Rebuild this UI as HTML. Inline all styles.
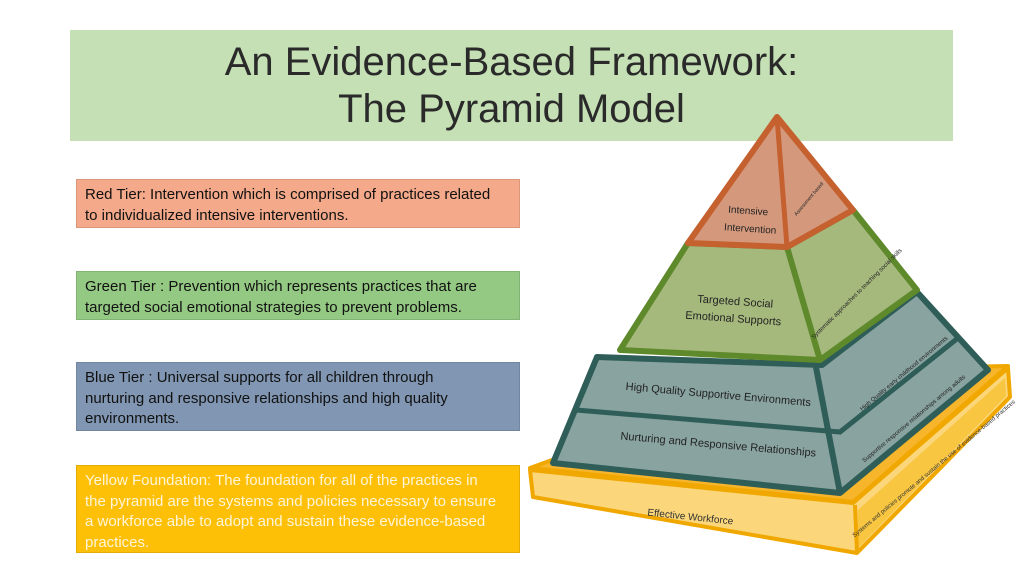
<!DOCTYPE html>
<html><head><meta charset="utf-8"><style>
body{margin:0;width:1024px;height:576px;background:#fff;position:relative;overflow:hidden;font-family:"Liberation Sans",sans-serif}
.title{position:absolute;left:70px;top:30px;width:883px;height:111px;background:#c5e0b4;text-align:center;font-size:40px;line-height:47px;color:#2a2a2a;padding-top:9px;box-sizing:border-box}
.b{position:absolute;left:76px;width:444px;box-sizing:border-box;padding:5px 8px;font-size:15px;line-height:20.5px;color:#111;border:1px solid rgba(0,0,0,.1);white-space:nowrap;overflow:hidden}
</style></head><body>
<div class="title">An Evidence-Based Framework:<br>The Pyramid Model</div>
<div class="b" style="top:179px;height:49px;background:#f4a98a">Red Tier: Intervention which is comprised of practices related<br>to individualized intensive interventions.</div>
<div class="b" style="top:271px;height:49px;background:#94c983">Green Tier : Prevention which represents practices that are<br>targeted social emotional strategies to prevent problems.</div>
<div class="b" style="top:362px;height:69px;background:#8096b2">Blue Tier : Universal supports for all children through<br>nurturing and responsive relationships and high quality<br>environments.</div>
<div class="b" style="top:465px;height:88px;background:#fdc006;color:#fff4d8">Yellow Foundation: The foundation for all of the practices in<br>the pyramid are the systems and policies necessary to ensure<br>a workforce able to adopt and sustain these evidence-based<br>practices.</div>
<svg style="position:absolute;left:0;top:0" width="1024" height="576" font-family="Liberation Sans, sans-serif">
<!-- base -->
<polygon points="530,468 853,502 1008,366 800,370" fill="#f6b52a" stroke="#f0a800" stroke-width="4" stroke-linejoin="round"/>
<polygon points="530,470 853,503 1008,368 1010,397 857,553 533,497" fill="#fbd67a" stroke="#f0a800" stroke-width="4" stroke-linejoin="round"/>
<polygon points="858,510 1005,378 1006,396 858,548" fill="#f8c640"/>
<line x1="855" y1="505" x2="857" y2="552" stroke="#f0a800" stroke-width="4"/>
<text x="690" y="520" font-size="10" fill="#333" transform="rotate(6 690 520)" text-anchor="middle">Effective Workforce</text>
<text x="935" y="470" font-size="6" fill="#333" transform="rotate(-40 935 470)" text-anchor="middle">Systems and policies promote and sustain the use of evidence-based practices</text>
<!-- blue -->
<polygon points="597,357 822,365 917,292 988,370 840,493 553,463" fill="#89a3a0" stroke="#2f5d58" stroke-width="6" stroke-linejoin="round"/>
<line x1="815" y1="362" x2="840" y2="493" stroke="#2f5d58" stroke-width="6"/>
<polyline points="576,410 840,432 958,338" fill="none" stroke="#2f5d58" stroke-width="5"/>
<text x="718" y="398" font-size="11" fill="#222" transform="rotate(5 718 398)" text-anchor="middle">High Quality Supportive Environments</text>
<text x="718" y="448" font-size="11" fill="#222" transform="rotate(5 718 448)" text-anchor="middle">Nurturing and Responsive Relationships</text>
<text x="905" y="375" font-size="6" fill="#222" transform="rotate(-40 905 375)" text-anchor="middle">High Quality early childhood environments</text>
<text x="915" y="420" font-size="6" fill="#222" transform="rotate(-40 915 420)" text-anchor="middle">Supportive responsive relationships among adults</text>
<!-- green -->
<polygon points="688,243 787,247 853,210 917,290 820,360 620,350" fill="#a6b97d" stroke="#5e8a2c" stroke-width="6" stroke-linejoin="round"/>
<line x1="787" y1="247" x2="820" y2="360" stroke="#5e8a2c" stroke-width="6"/>
<text x="735" y="305" font-size="11" fill="#222" transform="rotate(4 735 305)" text-anchor="middle">Targeted Social</text>
<text x="733" y="322" font-size="11" fill="#222" transform="rotate(4 733 322)" text-anchor="middle">Emotional Supports</text>
<text x="858" y="295" font-size="6" fill="#222" transform="rotate(-45 858 295)" text-anchor="middle">Systematic approaches to teaching social skills</text>
<!-- red -->
<polygon points="777,117 853,210 787,247 688,243" fill="#d4997d" stroke="#c5602f" stroke-width="6" stroke-linejoin="round"/>
<line x1="777" y1="117" x2="787" y2="247" stroke="#c5602f" stroke-width="5"/>
<text x="748" y="214" font-size="10" fill="#222" text-anchor="middle" transform="rotate(4 748 214)">Intensive</text>
<text x="750" y="232" font-size="10" fill="#222" text-anchor="middle" transform="rotate(4 750 232)">Intervention</text>
<text x="810" y="200" font-size="5" fill="#222" transform="rotate(-50 810 200)" text-anchor="middle">Assessment based</text>
</svg>
</body></html>
